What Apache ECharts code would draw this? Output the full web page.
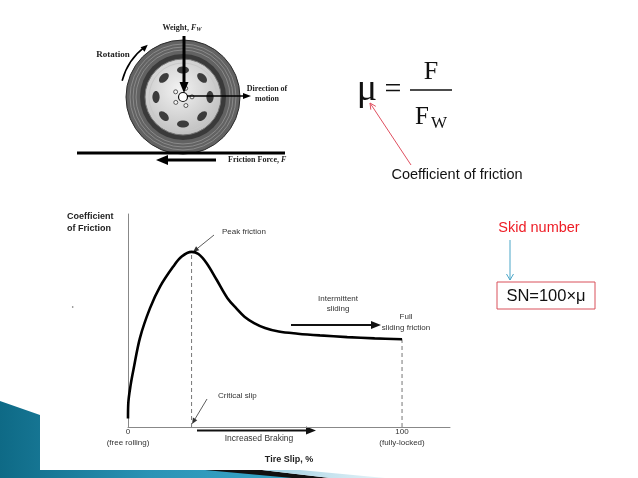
<!DOCTYPE html>
<html><head><meta charset="utf-8">
<script src="https://cdn.jsdelivr.net/npm/echarts@6/dist/echarts.min.js"></script>
<style>html,body{margin:0;padding:0;background:#fff}#c{width:638px;height:478px}</style>
</head><body><div id="c"></div>
<script>
// Tire slip (%) vs coefficient of friction (relative)
var slipX = [0, 0.1, 1.0, 2.0, 4.4, 8.0, 11.7, 16.5, 19.6, 23.2, 25.7, 28.7, 32.4, 36.3, 39.7, 42.5, 46, 50, 55, 62, 70, 80, 90, 100];
var frictionY = [0.04, 0.11, 0.20, 0.27, 0.42, 0.557, 0.659, 0.753, 0.800, 0.822, 0.812, 0.769, 0.690, 0.605, 0.555, 0.518, 0.488, 0.465, 0.448, 0.438, 0.430, 0.422, 0.416, 0.412];
var peakSlip = 23.2, peakMu = 0.822;
var lockedSlip = 100, lockedMu = 0.412;
var xTickLabels = {0: '0\n(free rolling)', 100: '100\n(fully-locked)'};

var chart = echarts.init(document.getElementById('c'), null, {renderer: 'canvas'});
var curve = slipX.map(function (x, i) { return [x, frictionY[i]]; });

var SANS = 'Liberation Sans, Arial, sans-serif';
var SERIF = 'Liberation Serif, Times New Roman, serif';

function arrow(x1, y1, x2, y2, w, hl, hw, color, open) {
  var dx = x2 - x1, dy = y2 - y1, L = Math.sqrt(dx * dx + dy * dy);
  var ux = dx / L, uy = dy / L, px = -uy, py = ux;
  var bx = x2 - ux * hl, by = y2 - uy * hl;
  var els = [];
  els.push({type: 'line', shape: {x1: x1, y1: y1, x2: open ? x2 : bx + ux, y2: open ? y2 : by + uy}, style: {stroke: color, lineWidth: w}});
  if (open) {
    els.push({type: 'polyline', shape: {points: [[bx + px * hw, by + py * hw], [x2, y2], [bx - px * hw, by - py * hw]]}, style: {stroke: color, lineWidth: w, fill: null}});
  } else {
    els.push({type: 'polygon', shape: {points: [[x2, y2], [bx + px * hw, by + py * hw], [bx - px * hw, by - py * hw]]}, style: {fill: color}});
  }
  return els;
}
function txt(x, y, s, size, opt) {
  opt = opt || {};
  return {type: 'text', x: x, y: y, style: {text: s, fontSize: size, fontFamily: opt.family || SANS, fontWeight: opt.weight || 'normal',
    fontStyle: opt.style || 'normal', fill: opt.color || '#222', align: opt.align || 'center', verticalAlign: 'middle', lineHeight: opt.lh, rich: opt.rich}};
}

var g = [];
// ---- bottom-left decoration
g.push({type: 'polygon', shape: {points: [[0, 401], [40, 415], [40, 470], [215, 470], [300, 478], [0, 478]]},
  style: {fill: new echarts.graphic.LinearGradient(0, 0, 1, 0, [{offset: 0, color: '#0e6a86'}, {offset: 0.5, color: '#2a93b5'}, {offset: 1, color: '#3aa7c9'}])}});
g.push({type: 'polygon', shape: {points: [[205, 470], [262, 470], [330, 478], [292, 478]]}, style: {fill: '#111'}});
g.push({type: 'polygon', shape: {points: [[262, 470], [300, 470], [385, 478], [330, 478]]},
  style: {fill: new echarts.graphic.LinearGradient(0, 0, 1, 0, [{offset: 0, color: '#9fcfe2'}, {offset: 1, color: '#e6f3f8'}])}});
g.push({type: 'circle', shape: {cx: 72.7, cy: 307, r: 0.8}, style: {fill: '#666'}});

// ---- tire diagram
var cx = 183, cy = 97;
g.push({type: 'circle', shape: {cx: cx, cy: cy, r: 57}, style: {fill: '#626262', stroke: '#2a2a2a', lineWidth: 1}});
[53, 50, 47].forEach(function (r) { g.push({type: 'circle', shape: {cx: cx, cy: cy, r: r}, style: {fill: null, stroke: '#8a8a8a', lineWidth: 1}}); });
g.push({type: 'circle', shape: {cx: cx, cy: cy, r: 43}, style: {fill: '#3a3a3a'}});
g.push({type: 'circle', shape: {cx: cx, cy: cy, r: 38},
  style: {fill: new echarts.graphic.RadialGradient(0.45, 0.4, 0.7, [{offset: 0, color: '#f2f2f2'}, {offset: 1, color: '#b8b8b8'}]), stroke: '#777', lineWidth: 1}});
g.push({type: 'circle', shape: {cx: cx, cy: cy, r: 34}, style: {fill: null, stroke: '#c8c8c8', lineWidth: 1}});
for (var k = 0; k < 8; k++) {
  var a = -Math.PI / 2 + k * Math.PI / 4;
  g.push({type: 'ellipse', x: cx + 27 * Math.cos(a), y: cy + 27 * Math.sin(a), rotation: -(a + Math.PI / 2),
    shape: {cx: 0, cy: 0, rx: 6, ry: 3.6}, style: {fill: '#3c3c3c'}});
}
for (var m = 0; m < 5; m++) {
  var b = -Math.PI / 2 + m * 2 * Math.PI / 5 + 0.3;
  g.push({type: 'circle', shape: {cx: cx + 9 * Math.cos(b), cy: cy + 9 * Math.sin(b), r: 2}, style: {fill: '#f4f4f4', stroke: '#333', lineWidth: 0.8}});
}
g.push({type: 'circle', shape: {cx: cx, cy: cy, r: 4.5}, style: {fill: '#fff', stroke: '#111', lineWidth: 1.2}});
// ground line
g.push({type: 'line', shape: {x1: 77, y1: 153, x2: 285, y2: 153}, style: {stroke: '#000', lineWidth: 3}});
g = g.concat(arrow(216, 160, 156, 160, 3, 12, 5, '#000'));
g = g.concat(arrow(cx + 1, 36, cx + 1, 93, 3, 11, 4.5, '#000'));
g = g.concat(arrow(cx + 4, 96, 251, 96, 1.6, 8, 3, '#000'));
// rotation arc
g.push({type: 'arc', shape: {cx: cx, cy: cy, r: 63, startAngle: 195 * Math.PI / 180, endAngle: 233 * Math.PI / 180}, style: {stroke: '#000', lineWidth: 1.6, fill: null}});
(function () {
  var ea = 236 * Math.PI / 180, tx = cx + 63 * Math.cos(ea), ty = cy + 63 * Math.sin(ea);
  var ta = 228 * Math.PI / 180, tdx = -Math.sin(ta), tdy = Math.cos(ta);
  var bx = tx - tdx * 7, by = ty - tdy * 7, nx = Math.cos(ta), ny = Math.sin(ta);
  g.push({type: 'polygon', shape: {points: [[tx, ty], [bx + nx * 3, by + ny * 3], [bx - nx * 3, by - ny * 3]]}, style: {fill: '#000'}});
})();
g.push(txt(182, 28, '{a|Weight, }{b|F}{c|W}', 8, {family: SERIF, weight: 'bold',
  rich: {a: {fontFamily: SERIF, fontWeight: 'bold', fontSize: 8}, b: {fontFamily: SERIF, fontWeight: 'bold', fontStyle: 'italic', fontSize: 8}, c: {fontFamily: SERIF, fontWeight: 'bold', fontStyle: 'italic', fontSize: 6, padding: [3, 0, 0, 0]}}}));
g.push(txt(113, 55, 'Rotation', 9, {family: SERIF, weight: 'bold'}));
g.push(txt(267, 94, 'Direction of\nmotion', 8, {family: SERIF, weight: 'bold', lh: 10}));
g.push(txt(228, 160, '{a|Friction Force, }{b|F}', 8, {family: SERIF, weight: 'bold', align: 'left',
  rich: {a: {fontFamily: SERIF, fontWeight: 'bold', fontSize: 8}, b: {fontFamily: SERIF, fontWeight: 'bold', fontStyle: 'italic', fontSize: 8}}}));

// ---- formula
g.push(txt(367, 90, 'μ', 38, {family: SERIF, color: '#111'}));
g.push(txt(393, 90, '=', 30, {family: SERIF, color: '#111'}));
g.push({type: 'line', shape: {x1: 410, y1: 90, x2: 452, y2: 90}, style: {stroke: '#111', lineWidth: 1.5}});
g.push(txt(431, 72, 'F', 26, {family: SERIF, color: '#111'}));
g.push(txt(422, 117, 'F', 25, {family: SERIF, color: '#111'}));
g.push(txt(439, 124, 'W', 17, {family: SERIF, color: '#111'}));
g = g.concat(arrow(411, 165, 370, 103, 1, 6, 3, '#e05060', true));
g.push(txt(457, 175, 'Coefficient of friction', 14.5, {color: '#111'}));

// ---- skid number
g.push(txt(539, 228, 'Skid number', 14.5, {color: '#ee1c25'}));
g = g.concat(arrow(510, 240, 510, 280, 1, 6, 3.5, '#4aa6c8', true));
g.push({type: 'rect', shape: {x: 497, y: 282, width: 98, height: 27}, style: {fill: null, stroke: '#d9505a', lineWidth: 1}});
g.push(txt(546, 296, 'SN=100×μ', 16.5, {color: '#111'}));

// ---- chart annotations
g.push(txt(67, 223, 'Coefficient\nof Friction', 9, {weight: 'bold', align: 'left', lh: 12}));
g.push(txt(222, 232, 'Peak friction', 8, {align: 'left', color: '#333'}));
g = g.concat(arrow(214, 235, 193, 252, 0.8, 6, 2.5, '#333'));
g.push(txt(218, 396, 'Critical slip', 8, {align: 'left', color: '#333'}));
g = g.concat(arrow(207, 399, 192, 424, 0.8, 6, 2.5, '#333'));
g.push(txt(338, 304, 'Intermittent\nsliding', 8, {color: '#333', lh: 10}));
g = g.concat(arrow(291, 325, 381, 325, 2, 10, 4, '#111'));
g.push(txt(406, 322, 'Full\nsliding friction', 8, {color: '#333', lh: 11}));
g = g.concat(arrow(197, 430.5, 316, 430.5, 2, 10, 4, '#111'));
g.push(txt(259, 438.5, 'Increased Braking', 8.5, {color: '#333'}));

chart.setOption({
  animation: false,
  backgroundColor: '#fff',
  grid: {left: 128, right: 188, top: 214, bottom: 51},
  xAxis: {
    type: 'value', min: 0, max: 117.5, interval: 100,
    name: 'Tire Slip, %', nameLocation: 'middle', nameGap: 28,
    nameTextStyle: {fontFamily: SANS, fontWeight: 'bold', fontSize: 9, color: '#222', padding: [0, 0, 0, 0]},
    axisLine: {lineStyle: {color: '#888', width: 1}}, axisTick: {show: false}, splitLine: {show: false},
    axisLabel: {show: true, margin: -1, fontFamily: SANS, fontSize: 8, color: '#333', lineHeight: 11,
      formatter: function (v) { return xTickLabels[v] || ''; }}
  },
  yAxis: {
    type: 'value', min: 0, max: 1,
    axisLine: {show: true, lineStyle: {color: '#888', width: 1}}, axisTick: {show: false},
    axisLabel: {show: false}, splitLine: {show: false}
  },
  series: [
    {type: 'line', data: curve, smooth: 0.35, symbol: 'none', lineStyle: {color: '#000', width: 2.6}, z: 3},
    {type: 'line', data: [[peakSlip, 0], [peakSlip, peakMu]], symbol: 'none', lineStyle: {color: '#777', width: 1, type: [4, 3]}, z: 2},
    {type: 'line', data: [[lockedSlip, 0], [lockedSlip, lockedMu]], symbol: 'none', lineStyle: {color: '#777', width: 1, type: [4, 3]}, z: 2}
  ],
  graphic: g
});
</script></body></html>
